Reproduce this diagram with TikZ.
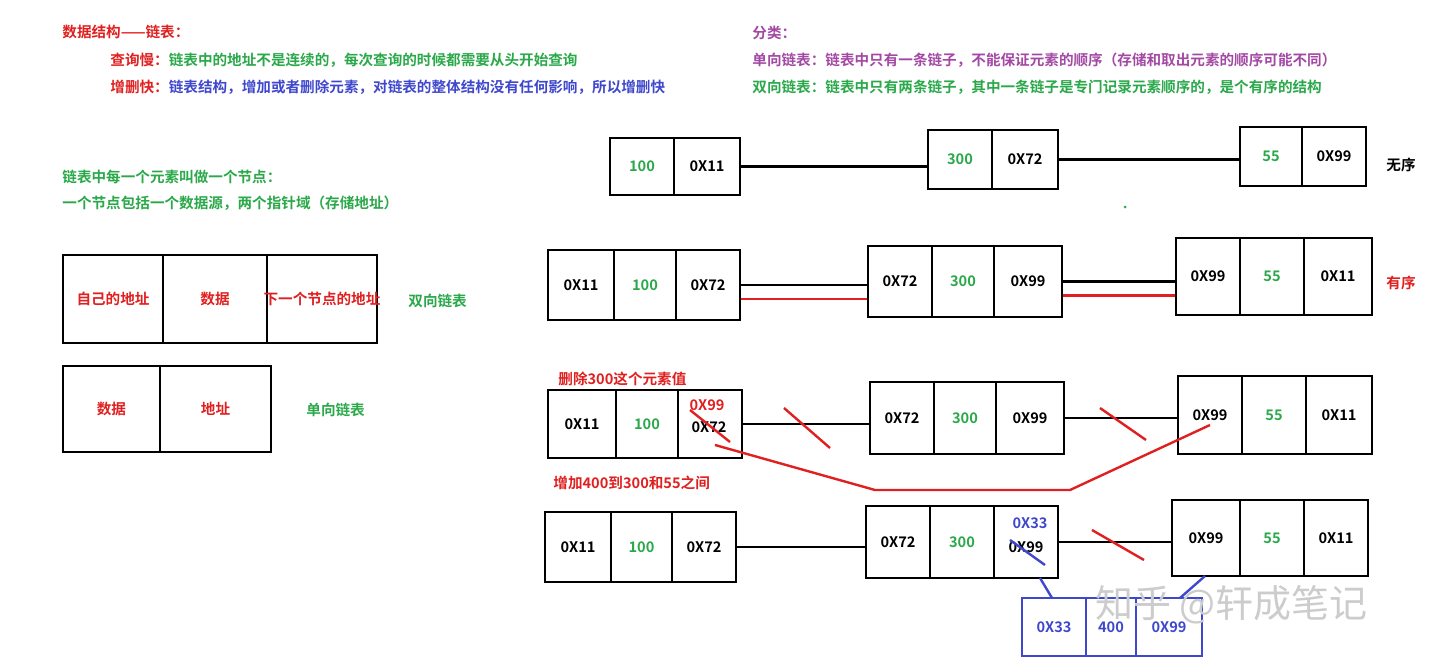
\documentclass[tikz,border=0pt]{standalone}
\usepackage{fontspec}
\setmainfont{Noto Sans CJK SC}[BoldFont={Noto Sans CJK SC Bold}]
\usetikzlibrary{positioning}
\definecolor{tred}{HTML}{E02020}
\definecolor{tgreen}{HTML}{2AA84A}
\definecolor{tblue}{HTML}{3F48CC}
\definecolor{tpurple}{HTML}{A349A4}
\tikzset{
  cell/.style={draw,line width=1.4pt,inner sep=0pt,font=\bfseries\fontsize{7.3}{8}\selectfont},
  bcell/.style={cell,draw=tblue},
  txt/.style={anchor=west,inner sep=0pt,font=\bfseries\fontsize{7.3}{8}\selectfont},
  link/.style={line width=1.2pt},
  cut/.style={line width=1.2pt,tred},
}
% name, x1, x2, y1, y2, text
\newcommand\cellbox[7][cell]{\node[#1,minimum width={(#4-#3)*0.5pt},minimum height={(#6-#5)*0.5pt}] (#2) at ({(#3+#4)/2},{(#5+#6)/2}) {\makebox[0pt]{#7}};}
\begin{document}
\begin{tikzpicture}[x=0.5pt,y=-0.5pt]
\useasboundingbox (0,0) rectangle (1440,664);

% left text
\node[txt,tred] (title) at (62,32) {数据结构——链表：};
\node[txt] (slow) at (110,60) {\textcolor{tred}{查询慢：}\textcolor{tgreen}{链表中的地址不是连续的，每次查询的时候都需要从头开始查询}};
\node[txt] (fast) at (110,87) {\textcolor{tred}{增删快：}\textcolor{tblue}{链表结构，增加或者删除元素，对链表的整体结构没有任何影响，所以增删快}};
\node[txt,tgreen] (def1) at (62,177) {链表中每一个元素叫做一个节点：};
\node[txt,tgreen] (def2) at (62,203) {一个节点包括一个数据源，两个指针域（存储地址）};

\cellbox{d1}{63}{163}{255}{343}{\textcolor{tred}{自己的地址}}
\cellbox{d2}{163}{267}{255}{343}{\textcolor{tred}{数据}}
\cellbox{d3}{267}{377}{255}{343}{\textcolor{tred}{下一个节点的地址}}
\node[txt,tgreen] (dlab) at (408,301) {双向链表};
\cellbox{s1}{63}{160}{366}{452}{\textcolor{tred}{数据}}
\cellbox{s2}{160}{271}{366}{452}{\textcolor{tred}{地址}}
\node[txt,tgreen] (slab) at (306,410) {单向链表};

% right text
\node[txt,tpurple] (cls) at (752,33) {分类：};
\node[txt,tpurple] (one) at (752,60) {单向链表：链表中只有一条链子，不能保证元素的顺序（存储和取出元素的顺序可能不同）};
\node[txt,tgreen] (two) at (752,87) {双向链表：链表中只有两条链子，其中一条链子是专门记录元素顺序的，是个有序的结构};

% row 1
\cellbox{a1}{610}{674}{138}{195}{\textcolor{tgreen}{100}}
\cellbox{a2}{674}{740}{138}{195}{0X11}
\cellbox{b1}{928}{992}{130}{189}{\textcolor{tgreen}{300}}
\cellbox{b2}{992}{1058}{130}{189}{0X72}
\cellbox{c1}{1240}{1302}{127}{186}{\textcolor{tgreen}{55}}
\cellbox{c2}{1302}{1366}{127}{186}{0X99}
\node[txt] (unord) at (1386,165) {无序};
\draw[link] (a2.east) -- (a2.east -| b1.west);
\draw[link] (b2.east) -- (b2.east -| c1.west);
\fill[tgreen] (1125,207) circle (1.5);

% row 2
\cellbox{e1}{548}{614}{250}{320}{0X11}
\cellbox{e2}{614}{676}{250}{320}{\textcolor{tgreen}{100}}
\cellbox{e3}{676}{740}{250}{320}{0X72}
\cellbox{f1}{868}{932}{246}{317}{0X72}
\cellbox{f2}{932}{994}{246}{317}{\textcolor{tgreen}{300}}
\cellbox{f3}{994}{1062}{246}{317}{0X99}
\cellbox{g1}{1176}{1240}{238}{315}{0X99}
\cellbox{g2}{1240}{1304}{238}{315}{\textcolor{tgreen}{55}}
\cellbox{g3}{1304}{1372}{238}{315}{0X11}
\node[txt,tred] (ord) at (1386,283) {有序};
\draw[link] (e3.east) -- (e3.east -| f1.west);
\draw[link] (f3.east) -- (f3.east -| g1.west);
\draw[cut] ([yshift=-7pt]e3.east) -- ([yshift=-7pt]e3.east -| f1.west);
\draw[cut] ([yshift=-7pt]f3.east) -- ([yshift=-7pt]f3.east -| g1.west);

% row 3
\node[txt,tred] (del) at (558,379) {删除300这个元素值};
\cellbox{h1}{548}{616}{390}{458}{0X11}
\cellbox{h2}{616}{678}{390}{458}{\textcolor{tgreen}{100}}
\cellbox{h3}{678}{742}{390}{458}{}
\node[font=\bfseries\fontsize{7.3}{8}\selectfont,tred] (h3new) at (707,405) {0X99};
\node[font=\bfseries\fontsize{7.3}{8}\selectfont] (h3old) at (709,427) {0X72};
\cellbox{i1}{870}{934}{382}{454}{0X72}
\cellbox{i2}{934}{996}{382}{454}{\textcolor{tgreen}{300}}
\cellbox{i3}{996}{1064}{382}{454}{0X99}
\cellbox{j1}{1178}{1242}{376}{454}{0X99}
\cellbox{j2}{1242}{1306}{376}{454}{\textcolor{tgreen}{55}}
\cellbox{j3}{1306}{1372}{376}{454}{0X11}
\draw[link] (h3.east) -- (h3.east -| i1.west);
\draw[link] (i3.east) -- (i3.east -| j1.west);
\draw[cut] (690,410) -- (730,442);
\draw[cut] (784,408) -- (830,448);
\draw[cut] (1100,408) -- (1146,440);
\draw[cut] (715,445) -- (875,490) -- (1070,490) -- (1210,425);

% row 4
\node[txt,tred] (add) at (553,483) {增加400到300和55之间};
\cellbox{k1}{545}{611}{512}{582}{0X11}
\cellbox{k2}{611}{672}{512}{582}{\textcolor{tgreen}{100}}
\cellbox{k3}{672}{736}{512}{582}{0X72}
\cellbox{l1}{866}{930}{506}{578}{0X72}
\cellbox{l2}{930}{994}{506}{578}{\textcolor{tgreen}{300}}
\cellbox{l3}{994}{1058}{506}{578}{}
\node[font=\bfseries\fontsize{7.3}{8}\selectfont,tblue] (l3new) at (1030,523) {0X33};
\node[font=\bfseries\fontsize{7.3}{8}\selectfont] (l3old) at (1026,547) {0X99};
\cellbox{m1}{1172}{1240}{500}{576}{0X99}
\cellbox{m2}{1240}{1304}{500}{576}{\textcolor{tgreen}{55}}
\cellbox{m3}{1304}{1368}{500}{576}{0X11}
\draw[link] (k3.east) -- (k3.east -| l1.west);
\draw[link] (l3.east) -- (l3.east -| m1.west);
\draw[cut] (1092,530) -- (1144,560);
\draw[line width=1.2pt,tblue] (1010,540) -- (1045,565);
\cellbox[bcell]{n1}{1022}{1086}{598}{656}{\textcolor{tblue}{0X33}}
\cellbox[bcell]{n2}{1086}{1136}{598}{656}{\textcolor{tblue}{400}}
\cellbox[bcell]{n3}{1136}{1202}{598}{656}{\textcolor{tblue}{0X99}}
\coordinate (up1) at (1040,578);
\coordinate (up2) at (1205,576);
\draw[line width=1.2pt,tblue] (up1) -- (1052,598);
\draw[line width=1.2pt,tblue] (up2) -- (1180,598);
\node[txt,gray!40,font=\fontsize{19}{20}\selectfont] (mark) at (1095,605) {知乎 @轩成笔记};
\end{tikzpicture}
\end{document}
